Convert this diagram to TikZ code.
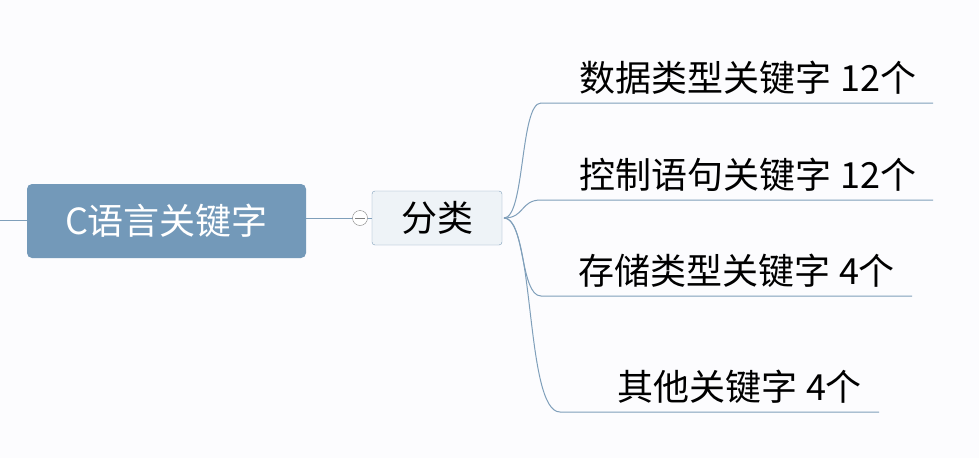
\documentclass[tikz,border=0pt]{standalone}
\usepackage{fontspec}
\setmainfont{Noto Sans CJK SC}
\definecolor{rootc}{HTML}{7399B9}
\definecolor{linec}{HTML}{7F9FBA}
\definecolor{subfill}{HTML}{EEF3F7}
\definecolor{bg}{HTML}{FCFCFE}
\begin{document}
\begin{tikzpicture}[x=1pt,y=-1pt,
  conn/.style={draw=linec,line width=1pt},
  leaf/.style={anchor=base,font=\fontsize{36}{40}\selectfont,inner sep=0pt}]
\fill[bg] (0,0) rectangle (979,458);
\useasboundingbox (0,0) rectangle (979,458);
\node[fill=rootc,rounded corners=5pt,minimum width=279pt,minimum height=74pt,text=white,font=\fontsize{36}{40}\selectfont,inner sep=0pt] (root) at (166.5,221) {C语言关键字};
\node[draw=linec,fill=subfill,rounded corners=3pt,minimum width=130pt,minimum height=54pt,font=\fontsize{36}{40}\selectfont,inner sep=0pt] (cat) at (437,218) {分类};
\coordinate (l0) at (0,220);
\draw[conn] (l0) -- (root.west |- l0);
\draw[conn] (root.east |- cat) -- (cat.west);
\node[circle,draw=gray,fill=white,minimum size=15pt,inner sep=0pt] (col) at (360,218) {};
\draw[gray,line width=0.8pt] (355,218) -- (365,218);
\coordinate (s) at (504,218);
\node[leaf] (t1) at (748,91) {数据类型关键字 12个};
\node[leaf] (t2) at (748,188) {控制语句关键字 12个};
\node[leaf] (t3) at (737,284) {存储类型关键字 4个};
\node[leaf] (t4) at (740,400) {其他关键字 4个};
\coordinate (a1) at (541,103); \coordinate (b1) at (933,103);
\coordinate (a2) at (541,200); \coordinate (b2) at (933,200);
\coordinate (a3) at (541,296); \coordinate (b3) at (912,296);
\coordinate (a4) at (560,412); \coordinate (b4) at (879,412);
\draw[conn] (s) .. controls (525,218) and (520,103) .. (a1) -- (b1);
\draw[conn] (s) .. controls (525,218) and (520,200) .. (a2) -- (b2);
\draw[conn] (s) .. controls (525,218) and (520,296) .. (a3) -- (b3);
\draw[conn] (s) .. controls (535,218) and (525,412) .. (a4) -- (b4);
\end{tikzpicture}
\end{document}
